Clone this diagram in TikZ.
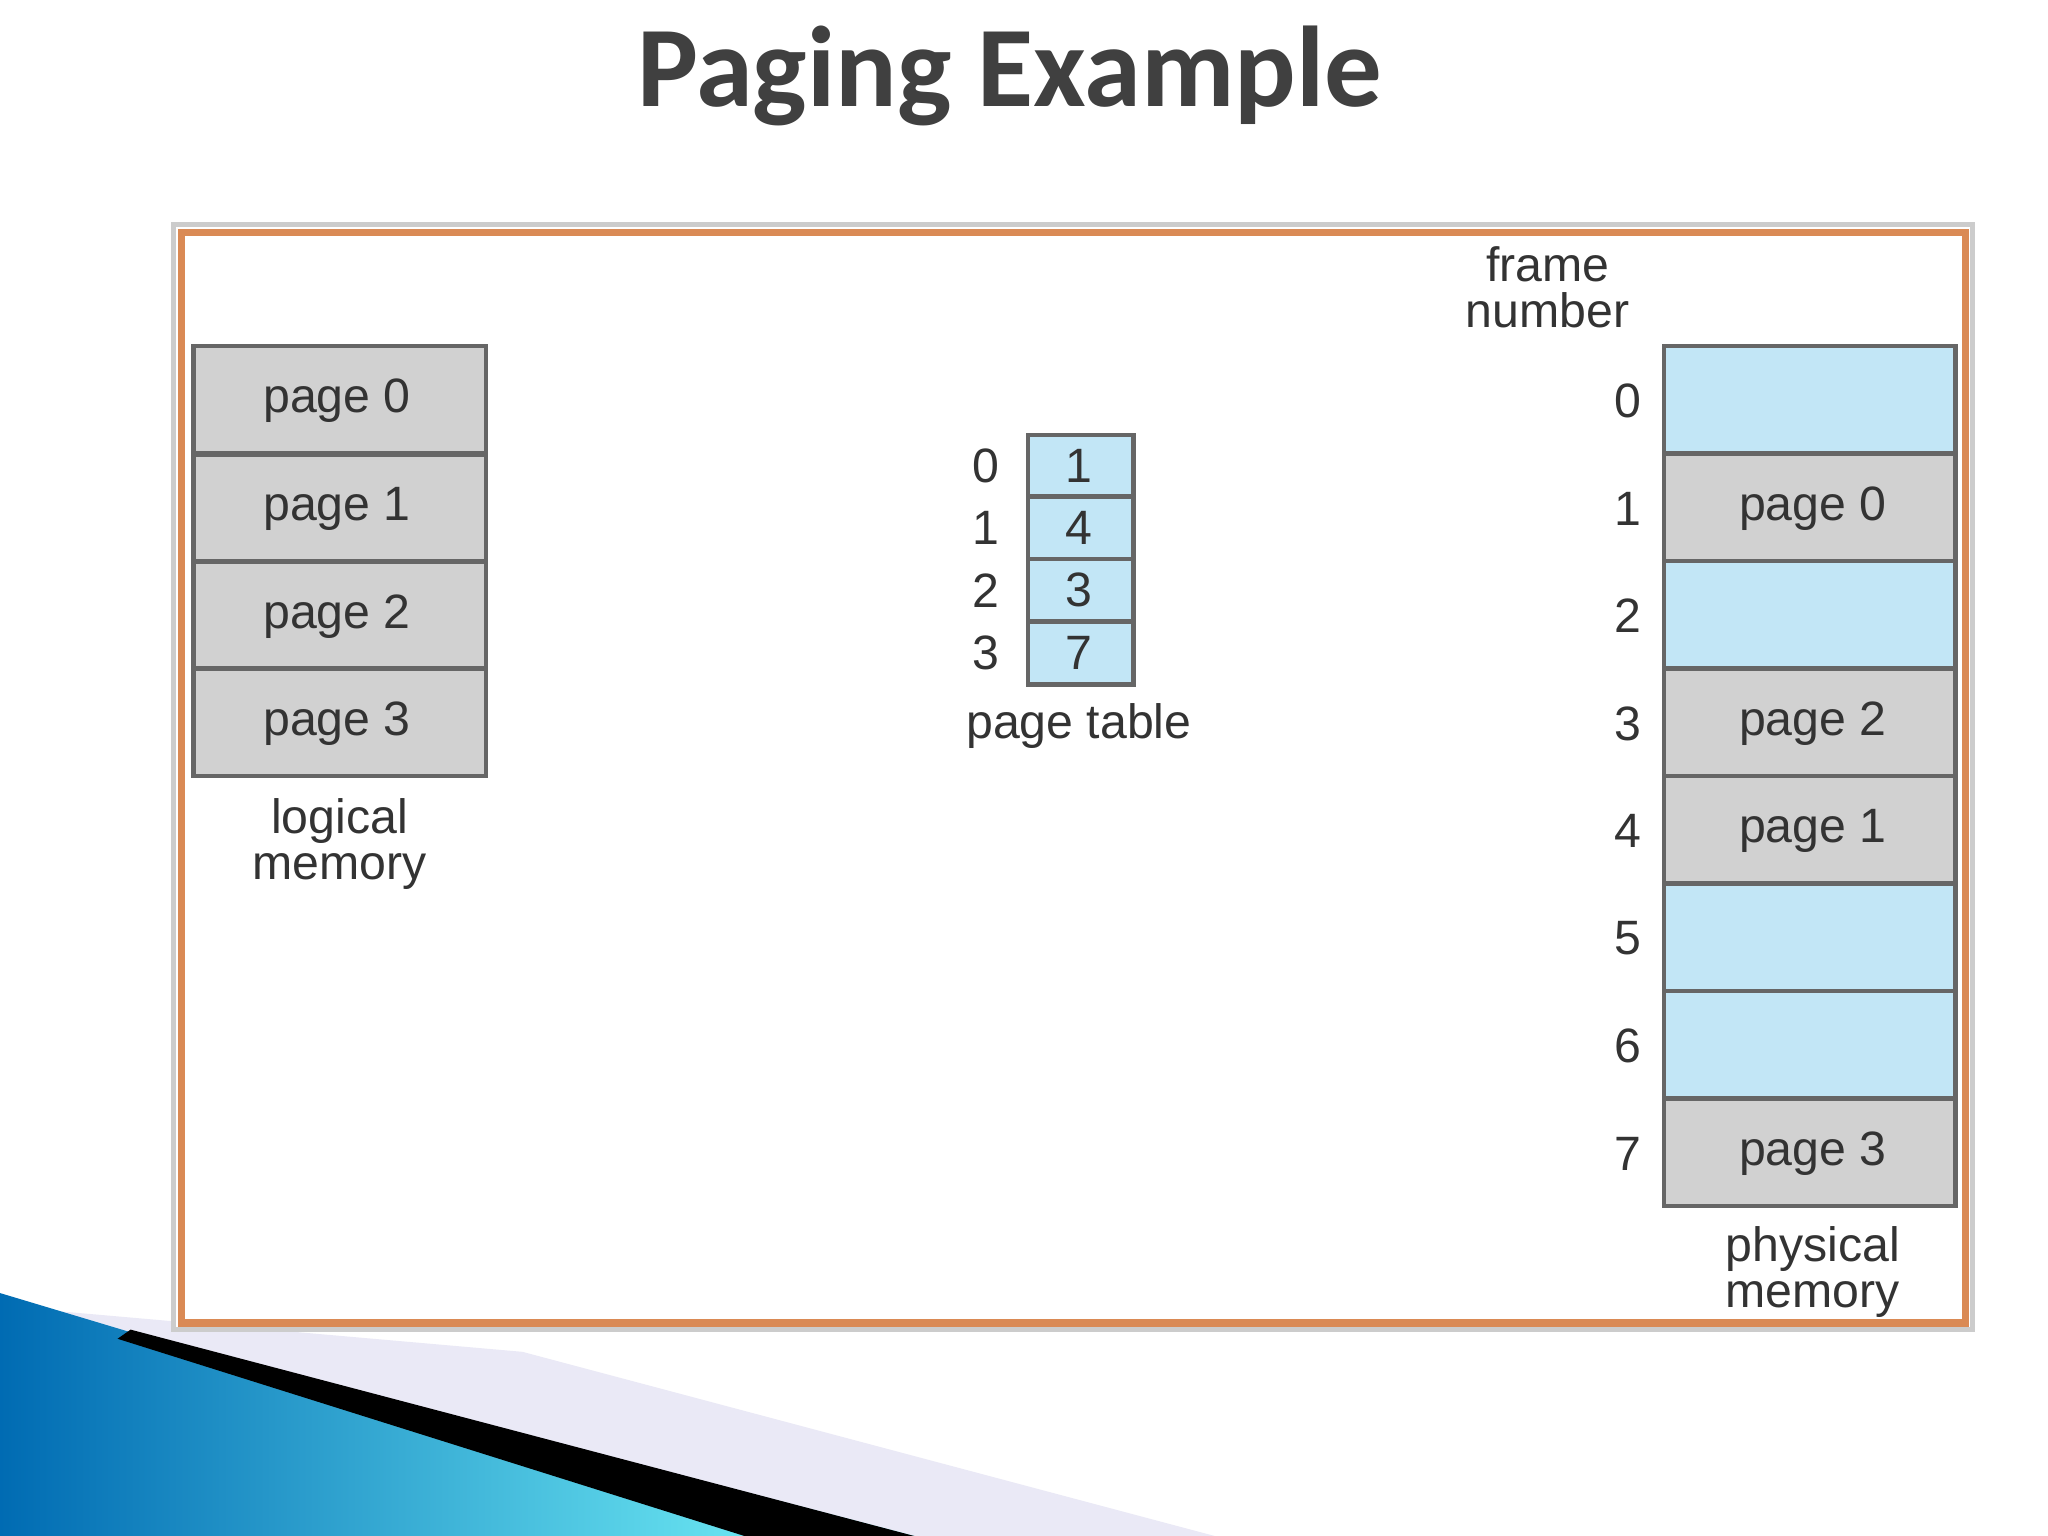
\documentclass[tikz,border=0pt]{standalone}
\usepackage{fontspec}
\setmainfont{Liberation Sans}
\newfontfamily\titlefont{Carlito}
\definecolor{memblue}{HTML}{C2E6F6}
\definecolor{frameor}{HTML}{DA8A55}
\begin{document}
\begin{tikzpicture}[x=0.01cm,y=-0.01cm,
  lbl/.style={font=\fontsize{10.5}{12}\selectfont,text=black!80},
  grayc/.style={draw=black!60,line width=1pt,fill=black!18},
  bluec/.style={draw=black!60,line width=1pt,fill=memblue}]
\useasboundingbox (0,0) rectangle (1568,1176);
\fill[white] (0,0) rectangle (1568,1176);
% decorative swoosh
\fill[cyan!20!blue!8] (0,1000) -- (400,1035) -- (930,1176) -- (0,1176) -- cycle;
\shade[left color=cyan!60!blue!70!black, right color=cyan!50!white] (0,990) -- (100,1020) -- (700,1176) -- (0,1176) -- cycle;
\fill[black] (100,1018) -- (700,1176) -- (570,1176) -- (90,1025) -- cycle;
% title
\node (title) at (773,58) {\titlefont\bfseries\fontsize{25}{30}\selectfont\color{black!75}Paging Example};
% frame
\draw[black!20,line width=1pt,fill=white] (133,172) rectangle (1510,1018);
\draw[frameor,line width=1.6pt] (139,178) rectangle (1505,1013);
% logical memory
\foreach \i/\y in {0/265,1/348,2/430,3/512}{
  \draw[grayc] (148,\y) rectangle (372,\y+82);
  \node[lbl] (lp\i) at (258,\y+42) {page \i};
}
\node[lbl,align=center] (lm) at (260,646) {logical\\[-2pt]memory};
% page table
\foreach \i/\v/\y in {0/1/333,1/4/380,2/3/428,3/7/476}{
  \draw[bluec] (787,\y) rectangle (868,\y+48);
  \node[lbl] (pt\i) at (826,\y+24) {\v};
  \node[lbl] (pi\i) at (755,\y+24) {\i};
}
\node[lbl] (ptl) at (826,556) {page table};
% physical memory
\node[lbl,align=center] (fn) at (1185,220) {frame\\[-2pt]number};
\foreach \i/\s/\t in {0/bluec/,1/grayc/page 0,2/bluec/,3/grayc/page 2,4/grayc/page 1,5/bluec/,6/bluec/,7/grayc/page 3}{
  \draw[\s] (1274,265+82.3*\i) rectangle (1497,265+82.3*\i+82.3);
  \node[lbl] (pf\i) at (1388,265+82.3*\i+42) {\t};
  \node[lbl] (fi\i) at (1246,265+82.3*\i+42) {\i};
}
\node[lbl,align=center] (pm) at (1388,974) {physical\\[-2pt]memory};
\end{tikzpicture}
\end{document}
